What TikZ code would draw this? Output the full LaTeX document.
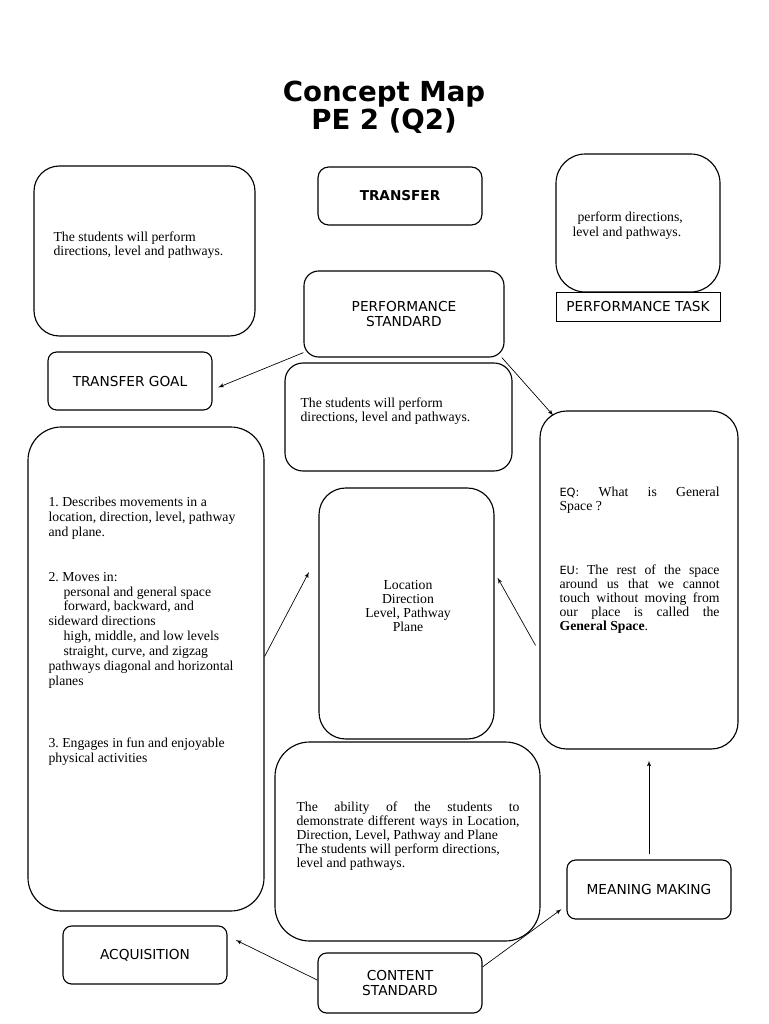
\documentclass[tikz,border=0pt]{standalone}
\usepackage{fontspec}
\setmainfont{Liberation Serif}
\newfontfamily\labelfont{DejaVu Sans}
\usetikzlibrary{shapes,arrows,positioning}
\frenchspacing

\begin{document}
\begin{tikzpicture}[x=0.75pt, y=-0.75pt, line width=0.85pt]
        \tikzstyle{bigbox} = [rectangle, draw, rounded corners=20pt, inner sep=0pt]
        \tikzstyle{tag} = [rectangle, draw, rounded corners=6.5pt, align=center, inner sep=0pt, minimum width=123pt, minimum height=43.5pt, font=\labelfont\fontsize{10.3}{11}\selectfont]
        \tikzstyle{prose} = [anchor=north west, inner sep=0pt, align=left, font=\fontsize{10.3}{10.6}\selectfont]
        \tikzstyle{line} = [draw, -latex', line width=0.5pt]
        \useasboundingbox (0,0) rectangle (768,1024);

        \node [align=center, font=\labelfont\bfseries\fontsize{20.7}{20.7}\selectfont] (title) at (384,107.5) {Concept Map\\PE 2 (Q2)};

        % top row
        \node [bigbox, rounded corners=19pt, minimum width=165.75pt, minimum height=127.5pt] (goalbox) at (144.5,251) {};
        \node [prose] (goaltext) at (53,231.6) {The students will perform\\directions, level and pathways.};
        \node [tag, rounded corners=8pt, font=\labelfont\bfseries\fontsize{10.2}{11}\selectfont] (transfer) at (400,196) {TRANSFER};
        \node [bigbox, rounded corners=22pt, minimum width=123pt, minimum height=103.5pt] (taskbox) at (638,223) {};
        \node [prose, font=\fontsize{10.3}{11.2}\selectfont] (tasktext) at (572,211.3) {\hspace*{3.75pt}perform directions,\\level and pathways.};
        \node [tag, rounded corners=0pt, line width=0.6pt, minimum height=21.75pt] (task) at (638,306.5) {PERFORMANCE TASK};

        \node [tag, rounded corners=11pt, minimum width=150pt, minimum height=64.5pt] (perfstd) at (404,314) {PERFORMANCE\\STANDARD};
        \node [tag] (goal) at (130,381) {TRANSFER GOAL};
        \node [bigbox, rounded corners=13.5pt, minimum width=170.25pt, minimum height=81pt] (stdbox) at (398.5,417) {};
        \node [prose] (stdtext) at (300,397.3) {The students will perform\\directions, level and pathways.};

        % middle row
        \node [bigbox, rounded corners=25pt, minimum width=177pt, minimum height=363pt] (acqbox) at (146,669) {};
        \node [prose, font=\fontsize{10.3}{11.2}\selectfont] (acqtext) at (48,496.3) {1. Describes movements in a\\location, direction, level, pathway\\and plane.\\[22.4pt]
            2. Moves in:\\\hspace*{11.25pt}personal and general space\\\hspace*{11.25pt}forward, backward, and\\sideward directions\\\hspace*{11.25pt}high, middle, and low levels\\\hspace*{11.25pt}straight, curve, and zigzag\\pathways diagonal and horizontal\\planes\\[34.9pt]
            3. Engages in fun and enjoyable\\physical activities};
        \node [bigbox, minimum width=131.25pt, minimum height=188.25pt] (topicbox) at (406.5,613.5) {};
        \node [prose, anchor=north, align=center, font=\fontsize{10.3}{10.35}\selectfont] (topictext) at (408,580.2) {Location\\Direction\\Level, Pathway\\Plane};
        \node [bigbox, minimum width=148.5pt, minimum height=253.5pt] (meanbox) at (639,580) {};
        \node [prose, text width=120pt, align=justify, font=\fontsize{10.3}{10.4}\selectfont] (eq) at (559,486.6) {{\labelfont\fontsize{8.5}{10.4}\selectfont EQ:} What is General\linebreak Space ?};
        \node [prose, text width=120pt, align=justify, font=\fontsize{10.3}{10.4}\selectfont] (eu) at (559,564.6) {{\labelfont\fontsize{8.5}{10.4}\selectfont EU:} The rest of the space\linebreak around us that we cannot\linebreak touch without moving from\linebreak our place is called the\linebreak \textbf{General Space}.};

        % bottom row
        \node [bigbox, rounded corners=26pt, minimum width=198.75pt, minimum height=149.25pt] (contentbox) at (407.5,841.5) {};
        \node [prose, text width=167.25pt, align=justify, font=\fontsize{10.3}{10.5}\selectfont] (contenttext) at (296,801) {The ability of the students to\linebreak demonstrate different ways in Location,\linebreak Direction, Level, Pathway and Plane\\The students will perform directions,\\level and pathways.};
        \node [tag, minimum height=44.25pt] (meaning) at (649,889.5) {MEANING MAKING};
        \node [tag] (acq) at (145,955) {ACQUISITION};
        \node [tag, minimum height=45pt] (content) at (400,983) {CONTENT\\STANDARD};

        \path [line, shorten >=4.5pt] (perfstd.201) -- (goal.354.5);
        \path [line, shorten >=-5pt] (perfstd.336) -- (meanbox.118.2);
        \path [line, shorten >=15.2pt] (acqbox.6.3) -- (topicbox.146.6);
        \path [line, shorten <=6pt, shorten >=4.5pt] (meanbox.216.4) -- (topicbox.25.9);
        \path [line, shorten <=3.75pt, shorten >=8.25pt] (meaning.north) -- (meaning.north |- meanbox.south);
        \path [line, shorten >=6.9pt] (content.178) -- (acq.13.1);
        \path [line, shorten >=4.6pt] (content.11.6) -- (meaning.191.1);
    \end{tikzpicture}
\end{document}
